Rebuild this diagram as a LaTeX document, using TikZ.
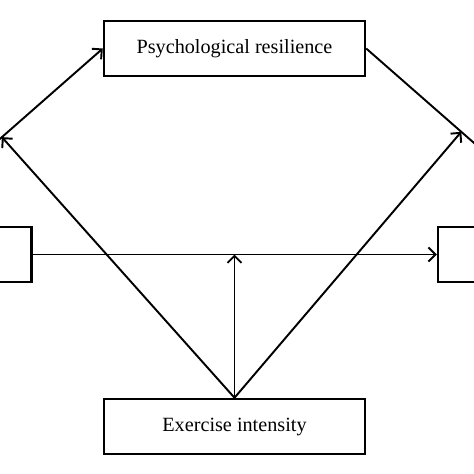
\documentclass[tikz,border=0pt]{standalone}
\usepackage{fontspec}
\setmainfont{Liberation Serif}
\usetikzlibrary{arrows.meta,calc}
\tikzstyle{varbox}=[draw, line width=1.4pt, minimum width=5.22cm, minimum height=1.1cm, inner sep=0pt, font=\fontsize{11.5}{13}\selectfont]
\tikzstyle{path}=[line width=1.1pt, -{Straight Barb[length=1.4mm, width=2.8mm, line width=1.1pt]}]

\begin{document}
\begin{tikzpicture}[x=0.02cm, y=-0.02cm]
    \useasboundingbox (0,0) rectangle (474,474);
% Boxes
    \node[varbox] (psych) at (234.5,48.5) {Psychological resilience};
    \node[varbox] (exer) at (234.5,426.5) {Exercise intensity};
    \node[varbox] (lbox) at (-99,254.5) {};
    \node[varbox] (rbox) at (568.5,254.5) {};
% Points on the paths
    \coordinate (lmid) at ($(lbox.north)!0.5!(psych.west)$);
    \coordinate (rmid) at ($(psych.east)!0.47!(rbox.north)$);
    \coordinate (cmid) at (exer.north |- lbox.east);
% Paths
    \draw[path] (lbox.north) -- (psych.west);
    \draw[path] (psych.east) -- (rbox.north);
    \draw[path] (lbox.east) -- (rbox.west);
% Moderation
    \draw[path] (exer.north) -- (lmid);
    \draw[path] (exer.north) -- (rmid);
    \draw[path] (exer.north) -- (cmid);
\end{tikzpicture}
\end{document}
